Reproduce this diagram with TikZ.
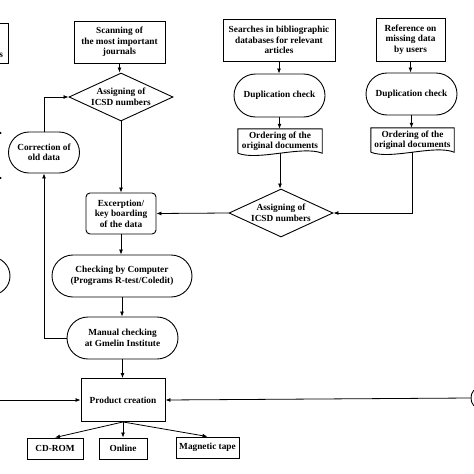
\documentclass[tikz,border=0pt]{standalone}
\usepackage{fontspec}
\setmainfont{Liberation Serif}
\usetikzlibrary{shapes.geometric,shapes.misc,arrows.meta}
\tikzset{
  lbl/.style={font=\fontsize{9.3}{10.5}\selectfont\bfseries, align=center, inner sep=0pt},
  boxn/.style={lbl, draw, line width=0.9pt, rectangle},
  rboxn/.style={boxn, rounded corners=4pt},
  pill/.style={lbl, draw, line width=0.9pt, rounded rectangle},
  decision/.style={lbl, draw, line width=0.9pt, diamond, shape aspect=2.2, minimum width=104pt, minimum height=48pt},
  docn/.style={lbl, minimum width=84pt, minimum height=24pt},
  docline/.style={draw, line width=0.9pt},
  arr/.style={line width=0.8pt, -{Latex[length=5pt,width=4pt]}},
}
\begin{document}
\begin{tikzpicture}[x=1pt,y=-1pt]
\useasboundingbox (0,0) rectangle (474,474);
\clip (0,0) rectangle (474,474);

% edge fragments
\node[boxn, minimum width=110pt, minimum height=40pt] (ltbox) at (-47,43) {};
\node[lbl, anchor=base east] (lts) at (3.2,57) {s};
\node[pill, minimum width=100pt, minimum height=38pt] (lbpill) at (-40,276) {};
\node[draw, line width=0.9pt, ellipse, minimum width=16pt, minimum height=20pt, inner sep=0pt] (rfrag) at (479,398) {};
\fill (0.5,133) circle (1.1);
\fill (0.5,178) circle (1.1);

% left column
\node[boxn, minimum width=91pt, minimum height=42pt] (scan) at (119.5,42) {Scanning of\\the most important\\journals};
\node[decision] (d1) at (121,97) {Assigning of\\ICSD numbers};
\node[pill, minimum width=71pt, minimum height=41pt] (corr) at (44,152.5) {Correction of\\old data};
\node[rboxn, minimum width=70pt, minimum height=41pt] (exc) at (121,213.5) {Excerption/\\key boarding\\of the data};
\node[pill, minimum width=140pt, minimum height=42pt] (chk) at (122,276) {Checking by Computer\\(Programs R-test/Coledit)};
\node[pill, minimum width=111pt, minimum height=42pt] (man) at (122.5,338) {Manual checking\\at Gmelin Institute};
\node[boxn, minimum width=84pt, minimum height=43pt] (prod) at (123,400) {Product creation};
\node[boxn, minimum width=56pt, minimum height=21pt] (cd) at (55,448.5) {CD-ROM};
\node[boxn, minimum width=48pt, minimum height=21pt] (onl) at (123,448.5) {Online};
\node[boxn, minimum width=63pt, minimum height=21pt] (mag) at (207.5,447.5) {Magnetic tape};

% middle column
\node[boxn, minimum width=112pt, minimum height=42pt] (srch) at (279,40) {Searches in bibliographic\\databases for relevant\\articles};
\node[pill, minimum width=91pt, minimum height=43pt] (dup1) at (279.5,95.5) {Duplication check};
\node[docn] (ord1) at (280,141) {Ordering of the\\original documents};
\node[decision] (d2) at (281,213) {Assigning of\\ICSD numbers};

% right column
\node[boxn, minimum width=69pt, minimum height=43pt] (ref) at (410.5,39.5) {Reference on\\missing data\\by users};
\node[pill, minimum width=91pt, minimum height=42pt] (dup2) at (411.5,94) {Duplication check};
\node[docn, minimum width=83pt] (ord2) at (412.5,140) {Ordering of the\\original documents};

% document outlines
\draw[docline] (ord1.south west) -- (ord1.north west) -- (ord1.north east) -- (ord1.south east)
  .. controls +(-20,-8) and +(20,8) .. (ord1.south west);
\draw[docline] (ord2.south west) -- (ord2.north west) -- (ord2.north east) -- (ord2.south east)
  .. controls +(-20,-8) and +(20,8) .. (ord2.south west);

% connectors
\coordinate (lin) at (0,400);
\draw[arr] (scan.south) -- (scan.south |- d1.north);
\draw[arr] (d1.south) -- (d1.south |- exc.north);
\draw[arr] (corr.north) |- (d1.west);
\draw[arr] (exc.south) -- (exc.south |- chk.north);
\draw[arr] (chk.south) -- (chk.south |- man.north);
\draw[arr] (man.south) -- (man.south |- prod.north);
\draw[arr] (man.west) -| (corr.south);
\draw[arr] (prod.south) -- (cd.north);
\draw[arr] (prod.south) -- (onl.north);
\draw[arr] (prod.south) -- (mag.north);
\draw[arr] (lin) -- (prod.west);
\draw[arr] (rfrag.west) -- (prod.east);

\draw[arr] (srch.south) -- (srch.south |- dup1.north);
\draw[arr] (dup1.south) -- (dup1.south |- ord1.north);
\draw[arr] (ord1.south) -- (ord1.south |- d2.north);
\draw[arr] (ref.south) -- (ref.south |- dup2.north);
\draw[arr] (dup2.south) -- (dup2.south |- ord2.north);
\draw[arr] (ord2.south) |- (d2.east);
\draw[arr] (d2.west) -- (exc.east);
\end{tikzpicture}
\end{document}
